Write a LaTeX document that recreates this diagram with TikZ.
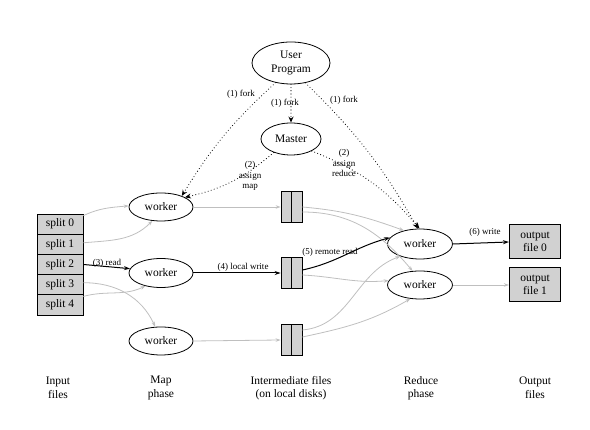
\documentclass[tikz,border=0pt]{standalone}
\usepackage{fontspec}
\setmainfont{Liberation Serif}
\usetikzlibrary{shapes.geometric,arrows.meta}
\begin{document}
\begin{tikzpicture}[x=1pt,y=1pt,
  every node/.style={font=\fontsize{11.5}{13.5}\selectfont},
  ell/.style={ellipse,draw,line width=0.8pt,inner sep=0pt,align=center},
  splitbox/.style={rectangle,draw,line width=0.8pt,fill=black!18,minimum width=46pt,minimum height=20.2pt,inner sep=0pt},
  ifile/.style={rectangle,draw,line width=0.8pt,fill=black!18,minimum width=21pt,minimum height=31pt,inner sep=0pt},
  ofile/.style={rectangle,draw,line width=1pt,fill=black!18,minimum width=51pt,minimum height=34pt,inner sep=0pt,align=center},
  lbl/.style={font=\fontsize{9}{10.5}\selectfont,align=center,inner sep=1pt},
  phase/.style={align=center,inner sep=0pt},
  grayarr/.style={draw=black!25,line width=0.8pt,-{Stealth[length=5pt,width=3.5pt]}},
  blkarr/.style={draw=black,line width=1pt,-{Stealth[length=6pt,width=4pt]}},
  dotarr/.style={draw=black,line width=1.1pt,dash pattern=on 0pt off 3.2pt,line cap=round,-{Stealth[length=6pt,width=5pt]}},
]
\useasboundingbox (0,0) rectangle (590,430);

% nodes
\node[ell,minimum width=78pt,minimum height=42pt] (up) at (291,367) {User\\Program};
\node[ell,minimum width=60pt,minimum height=32pt] (ma) at (291,291) {Master};
\node[ell,minimum width=64pt,minimum height=28pt] (mw1) at (161,223) {worker};
\node[ell,minimum width=64pt,minimum height=29pt] (mw2) at (161,157) {worker};
\node[ell,minimum width=64pt,minimum height=28pt] (mw3) at (161,89) {worker};

\node[splitbox] (s0) at (60,205.9) {split 0};
\node[splitbox] (s1) at (60,185.7) {split 1};
\node[splitbox] (s2) at (60,165.5) {split 2};
\node[splitbox] (s3) at (60,145.3) {split 3};
\node[splitbox] (s4) at (60,125.1) {split 4};

\node[ifile] (i1) at (291.5,223) {};
\node[ifile] (i2) at (291.5,157) {};
\node[ifile] (i3) at (291.5,90) {};
\draw[line width=0.8pt] (i1.north) -- (i1.south);
\draw[line width=0.8pt] (i2.north) -- (i2.south);
\draw[line width=0.8pt] (i3.north) -- (i3.south);

\node[ell,minimum width=65pt,minimum height=30pt] (rw1) at (420,186) {worker};
\node[ell,minimum width=65pt,minimum height=28pt] (rw2) at (420,145) {worker};

\node[ofile] (of0) at (535,188) {output\\file 0};
\node[ofile] (of1) at (535,145) {output\\file 1};

% phase labels
\node[phase] (pin) at (58,42) {Input\\files};
\node[phase] (pmap) at (161,42) {Map\\phase};
\node[phase] (pint) at (291,42) {Intermediate files\\(on local disks)};
\node[phase] (pred) at (421,42) {Reduce\\phase};
\node[phase] (pout) at (535,42) {Output\\files};

% dotted control connectors
\draw[dotarr] (up.south) -- (ma.north);
\draw[dotarr] (up.232) to[bend right=8] (mw1.28);
\draw[dotarr] (ma.218) to[bend left=14] (mw1.22);
\draw[dotarr] (up.306) to[bend left=8] (rw1.98);
\draw[dotarr] (ma.330) to[bend left=14] (rw1.92);

% input splits to map workers
\draw[grayarr] ([yshift=-2pt]s0.north east) to[out=25,in=185] (mw1.178);
\draw[grayarr] ([yshift=1.5pt]s1.east) to[out=5,in=-135] (mw1.238);
\draw[blkarr] (s2.east) to[out=-5,in=175] (mw2.172);
\draw[grayarr] ([yshift=2pt]s3.east) to[out=0,in=115] (mw3.112);
\draw[grayarr] ([yshift=-2pt]s4.north east) to[out=15,in=205] (mw2.220);

% map workers to intermediate files
\draw[grayarr] (mw1.east) -- (i1.west);
\draw[blkarr] (mw2.east) -- (i2.west);
\draw[grayarr] (mw3.east) -- (i3.west);

% intermediate files to reduce workers
\draw[grayarr] (i1.east) to[out=-5,in=160] (rw1.140);
\draw[grayarr] ([yshift=-5pt]i1.east) to[out=0,in=130] (rw2.118);
\draw[blkarr] ([yshift=3pt]i2.east) to[out=12,in=195] (rw1.168);
\draw[grayarr] ([yshift=-2pt]i2.east) to[out=-3,in=185] (rw2.172);
\draw[grayarr] ([yshift=10pt]i3.east) to[out=5,in=200] (rw1.212);
\draw[grayarr] ([yshift=3pt]i3.east) to[out=12,in=210] (rw2.235);

% reduce workers to output files
\draw[blkarr] (rw1.east) -- (of0.west);
\draw[grayarr] (rw2.east) -- (of1.west);

% edge labels
\node[lbl] (l1a) at (241,336) {(1) fork};
\node[lbl] (l1b) at (285,327) {(1) fork};
\node[lbl] (l1c) at (344,330) {(1) fork};
\node[lbl] (l2a) at (250,254) {(2)\\assign\\map};
\node[lbl] (l2b) at (344,267) {(2)\\assign\\reduce};
\node[lbl] (l3) at (107,167) {(3) read};
\node[lbl] (l4) at (243,163) {(4) local write};
\node[lbl] (l5) at (330,178) {(5) remote read};
\node[lbl] (l6) at (485,198) {(6) write};
\end{tikzpicture}
\end{document}
